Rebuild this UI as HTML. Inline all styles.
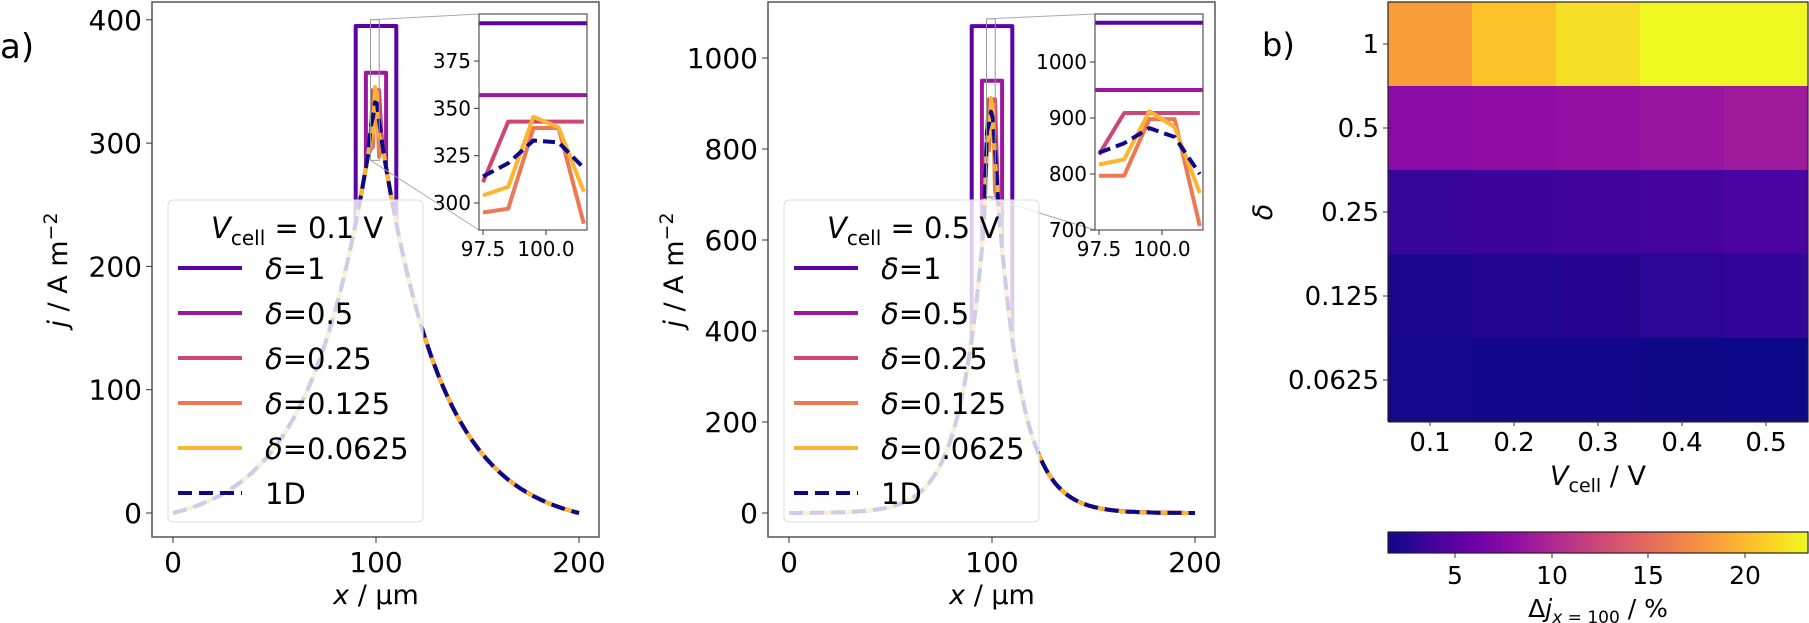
<!DOCTYPE html>
<html><head><meta charset="utf-8"><style>
html,body{margin:0;padding:0;background:#fff;}
svg{display:block;font-family:"DejaVu Sans","Liberation Sans",sans-serif;}
</style></head><body>
<svg id="s" width="1809" height="623" viewBox="0 0 1809 623" xmlns="http://www.w3.org/2000/svg">
<defs>
<clipPath id="c1"><rect x="152" y="2" width="447" height="535"/></clipPath>
<clipPath id="c2"><rect x="768" y="2" width="447" height="535"/></clipPath>
<clipPath id="i1"><rect x="479" y="14" width="108" height="216"/></clipPath>
<clipPath id="i2"><rect x="1095" y="14" width="108" height="216"/></clipPath>
<linearGradient id="plasma" x1="0" x2="1" y1="0" y2="0">
<stop offset="0" stop-color="#0d0887"/><stop offset="0.1" stop-color="#41049d"/><stop offset="0.2" stop-color="#6a00a8"/><stop offset="0.3" stop-color="#8f0da4"/><stop offset="0.4" stop-color="#b12a90"/><stop offset="0.5" stop-color="#cc4778"/><stop offset="0.6" stop-color="#e16462"/><stop offset="0.7" stop-color="#f2844b"/><stop offset="0.8" stop-color="#fca636"/><stop offset="0.9" stop-color="#fcce25"/><stop offset="1" stop-color="#f0f921"/>
</linearGradient>
</defs>
<g id="root"></g>
</svg>
<script>
const root=document.getElementById("root");
let out="";
const cols=["#5c01a6","#9c179e","#cc4778","#ed7953","#fdb42f"];
const dash="#0d0887";
function path(pts,c,extra){return `<polyline points="${pts.map(p=>p[0].toFixed(1)+","+p[1].toFixed(1)).join(" ")}" fill="none" stroke="${c}" stroke-width="4" stroke-linejoin="round" ${extra||""}/>`;}
const ix=[97.5,98.5,99.5,100.5,101.5];
function panel(o){
  const X=x=>o.x0+2.03*x, Y=j=>513-o.sy*j;
  const f=x=>{const d=Math.abs(x-100);const e0=Math.exp(-100/o.k);return o.A*(Math.exp(-d/o.k)-e0)/(1-e0);};
  let g=`<g clip-path="url(#${o.clip})">`;
  function base(a,b){let p=[];for(let x=a;x<=b;x+=1)p.push([X(x),Y(f(x))]);return p;}
  let p=base(0,90).concat([[X(90),Y(o.r1)],[X(110),Y(o.r1)]]).concat(base(110,200));
  g+=path(p,cols[0]);
  p=base(0,95).concat([[X(95),Y(o.r2)],[X(105),Y(o.r2)]]).concat(base(105,200));
  g+=path(p,cols[1]);
  for(let s=0;s<3;s++){
    const d=o.ins[s+2];
    p=base(0,96).concat(ix.map((x,i)=>[X(x),Y(d[i])])).concat(base(103,200));
    g+=path(p,cols[s+2]);
  }
  const d=o.ins[5];
  p=base(0,96).concat(ix.map((x,i)=>[X(x),Y(d[i])])).concat(base(103,200));
  g+=path(p,dash,'stroke-dasharray="14,7"');
  g+="</g>";
  const bx1=X(97.3),bx2=X(101.6),by1=Y(o.iy1),by2=Y(o.iy0);
  g+=`<rect x="${bx1}" y="${by1}" width="${bx2-bx1}" height="${by2-by1}" fill="none" stroke="#999" stroke-width="1"/>`;
  g+=`<line x1="${bx1}" y1="${by1}" x2="${o.ix}" y2="14" stroke="#aaa" stroke-width="1"/>`;
  g+=`<line x1="${bx1}" y1="${by2}" x2="${o.ix}" y2="230" stroke="#aaa" stroke-width="1"/>`;
  const lx=o.x0-5;
  g+=`<rect x="${lx}" y="200" width="255" height="322" rx="5" fill="#fff" fill-opacity="0.8" stroke="#ddd" stroke-width="1"/>`;
  g+=`<text x="${lx+43}" y="238" font-size="29"><tspan font-style="italic">V</tspan><tspan font-size="20" dy="7">cell</tspan><tspan dy="-7"> = ${o.v} V</tspan></text>`;
  const labs=["1","0.5","0.25","0.125","0.0625"];
  for(let i=0;i<6;i++){
    const yy=268+45*i;
    g+=`<line x1="${lx+10}" y1="${yy}" x2="${lx+74}" y2="${yy}" stroke="${i<5?cols[i]:dash}" stroke-width="4" ${i==5?'stroke-dasharray="14,7"':''}/>`;
    g+=`<text x="${lx+97}" y="${yy+11}" font-size="29">${i<5?'<tspan font-style="italic">δ</tspan>='+labs[i]:'1D'}</text>`;
  }
  g+=`<rect x="${o.x0-21}" y="2" width="447" height="535" fill="none" stroke="#555" stroke-width="1.5"/>`;
  for(const t of o.yt){const y=Y(t);g+=`<line x1="${o.x0-27}" y1="${y}" x2="${o.x0-21}" y2="${y}" stroke="#333"/><text x="${o.x0-31}" y="${y+10}" font-size="28" text-anchor="end">${t}</text>`;}
  for(const t of [0,100,200]){const x=X(t);g+=`<line x1="${x}" y1="537" x2="${x}" y2="543" stroke="#333"/><text x="${x}" y="572" font-size="28" text-anchor="middle">${t}</text>`;}
  g+=`<text x="${X(100)}" y="604" font-size="27" text-anchor="middle"><tspan font-style="italic">x</tspan> / µm</text>`;
  g+=`<text transform="translate(${o.x0-106},270) rotate(-90)" font-size="27" text-anchor="middle"><tspan font-style="italic">j</tspan> / A m<tspan font-size="19" dy="-10">−2</tspan></text>`;
  const IX=x=>o.ix+4+(x-97.5)*25.2, IY=j=>o.iyb-(j-o.iyv)*o.isc;
  g+=`<rect x="${o.ix}" y="14" width="108" height="216" fill="#fff"/>`;
  g+=`<g clip-path="url(#${o.iclip})">`;
  g+=path([[IX(97.2),IY(o.r1)],[IX(101.7),IY(o.r1)]],cols[0]);
  g+=path([[IX(97.2),IY(o.r2)],[IX(101.7),IY(o.r2)]],cols[1]);
  for(let s=2;s<5;s++)g+=path(ix.map((x,i)=>[IX(x),IY(o.ins[s][i])]),cols[s]);
  g+=path(ix.map((x,i)=>[IX(x),IY(o.ins[5][i])]),dash,'stroke-dasharray="12,6"');
  g+="</g>";
  g+=`<rect x="${o.ix}" y="14" width="108" height="216" fill="none" stroke="#555" stroke-width="1.2"/>`;
  for(const t of o.it){const y=IY(t);g+=`<line x1="${o.ix-5}" y1="${y}" x2="${o.ix}" y2="${y}" stroke="#333"/><text x="${o.ix-8}" y="${y+7}" font-size="20" text-anchor="end">${t}</text>`;}
  for(const t of [97.5,100]){const x=IX(t);g+=`<line x1="${x}" y1="230" x2="${x}" y2="235" stroke="#333"/><text x="${x}" y="256" font-size="20" text-anchor="middle">${t.toFixed(1)}</text>`;}
  return g;
}
out+=`<text x="0" y="58" font-size="34">a)</text>`;
out+=panel({x0:173,sy:1.233,A:333,k:30,r1:395,r2:357,clip:"c1",iclip:"i1",ix:479,v:"0.1",
 yt:[0,100,200,300,400],iy0:286,iy1:400,iyb:203,iyv:300,isc:1.893,it:[300,325,350,375],
 ins:[0,0,[311,343,343,343,343],[295,297,339.6,339.6,289],[304,308.5,345.5,340,306],[314,321,333,332,318.5]]});
out+=panel({x0:789,sy:0.455,A:880,k:12,r1:1070,r2:950,clip:"c2",iclip:"i2",ix:1095,v:"0.5",
 yt:[0,200,400,600,800,1000],iy0:695,iy1:1086,iyb:62,iyv:1000,isc:0.56,it:[700,800,900,1000],
 ins:[0,0,[835,909,909,909,909],[797,797,898,898,707],[817,826,912,884,766],[838,855,882,866,800]]});
const hm=[["#f99d3a","#fdc129","#f6dd26","#eff821","#eff821"],
["#8a0aa5","#8f0da4","#950fa2","#9a159f","#a01a9c"],
["#38049a","#3c049b","#40049d","#45039e","#4b03a1"],
["#1c068d","#220690","#260591","#2b0593","#33059a"],
["#140789","#120788","#110788","#0e0786","#0d0887"]];
for(let r=0;r<5;r++)for(let c=0;c<5;c++)out+=`<rect x="${1388+84*c}" y="${2+84*r}" width="84.5" height="84.5" fill="${hm[r][c]}"/>`;
out+=`<rect x="1388" y="2" width="420" height="419" fill="none" stroke="#222" stroke-width="1.2"/>`;
const dl=["1","0.5","0.25","0.125","0.0625"];
for(let r=0;r<5;r++){const y=44+84*r;out+=`<line x1="1383" y1="${y}" x2="1388" y2="${y}" stroke="#333"/><text x="1379" y="${y+9}" font-size="26" text-anchor="end">${dl[r]}</text>`;}
for(let c=0;c<5;c++){const x=1430+84*c;out+=`<line x1="${x}" y1="421" x2="${x}" y2="426" stroke="#333"/><text x="${x}" y="451" font-size="26" text-anchor="middle">0.${c+1}</text>`;}
out+=`<text x="1598" y="485" font-size="27" text-anchor="middle"><tspan font-style="italic">V</tspan><tspan font-size="19" dy="7">cell</tspan><tspan dy="-7"> / V</tspan></text>`;
out+=`<text transform="translate(1272,212) rotate(-90)" font-size="27" text-anchor="middle" font-style="italic">δ</text>`;
out+=`<text x="1262" y="56" font-size="32">b)</text>`;
out+=`<rect x="1388" y="532" width="420" height="21" fill="url(#plasma)" stroke="#222" stroke-width="1.2"/>`;
[[5,1455],[10,1552],[15,1648],[20,1745]].forEach(([t,x])=>{out+=`<line x1="${x}" y1="553" x2="${x}" y2="558" stroke="#333"/><text x="${x}" y="584" font-size="25" text-anchor="middle">${t}</text>`;});
out+=`<text x="1598" y="617" font-size="25" text-anchor="middle">Δ<tspan font-style="italic">j</tspan><tspan font-size="17" dy="6"><tspan font-style="italic">x</tspan> = 100</tspan><tspan dy="-6"> / %</tspan></text>`;
root.innerHTML=out;
</script>
</body></html>
